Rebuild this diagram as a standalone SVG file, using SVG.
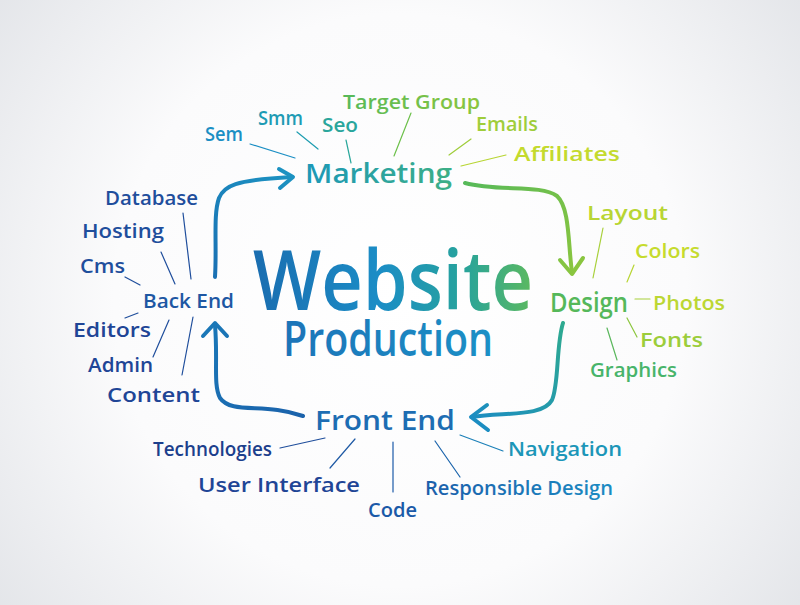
<svg xmlns="http://www.w3.org/2000/svg" width="800" height="605" viewBox="0 0 800 605">
<defs>
<radialGradient id="bg" cx="400" cy="300" r="520" gradientUnits="userSpaceOnUse">
<stop offset="0" stop-color="#ffffff"/>
<stop offset="0.55" stop-color="#fbfbfc"/>
<stop offset="1" stop-color="#e2e4e8"/>
</radialGradient>
<linearGradient id="gWeb" x1="0" y1="0" x2="280" y2="0" gradientUnits="userSpaceOnUse">
<stop offset="0" stop-color="#1a6db0"/>
<stop offset="0.45" stop-color="#1b8dc6"/>
<stop offset="0.75" stop-color="#27a39c"/>
<stop offset="1" stop-color="#5cb95f"/>
</linearGradient>
<linearGradient id="gProd" x1="0" y1="0" x2="210" y2="0" gradientUnits="userSpaceOnUse">
<stop offset="0" stop-color="#1c74b8"/>
<stop offset="1" stop-color="#1b90c6"/>
</linearGradient>
<linearGradient id="gMkt" x1="305" y1="0" x2="452" y2="0" gradientUnits="userSpaceOnUse">
<stop offset="0" stop-color="#1c98b8"/>
<stop offset="1" stop-color="#3daf86"/>
</linearGradient>
<linearGradient id="gTG" x1="343" y1="0" x2="480" y2="0" gradientUnits="userSpaceOnUse">
<stop offset="0" stop-color="#56b95a"/>
<stop offset="1" stop-color="#8cc63e"/>
</linearGradient>
<linearGradient id="gRD" x1="425" y1="0" x2="613" y2="0" gradientUnits="userSpaceOnUse">
<stop offset="0" stop-color="#1b5fab"/>
<stop offset="1" stop-color="#1b8cc3"/>
</linearGradient>
<linearGradient id="gA1" x1="210" y1="280" x2="295" y2="175" gradientUnits="userSpaceOnUse">
<stop offset="0" stop-color="#1a6fb3"/>
<stop offset="1" stop-color="#1c93c2"/>
</linearGradient>
<linearGradient id="gA2" x1="462" y1="185" x2="580" y2="275" gradientUnits="userSpaceOnUse">
<stop offset="0" stop-color="#56b95a"/>
<stop offset="1" stop-color="#8cc63e"/>
</linearGradient>
<linearGradient id="gA3" x1="565" y1="320" x2="470" y2="420" gradientUnits="userSpaceOnUse">
<stop offset="0" stop-color="#2fab8f"/>
<stop offset="1" stop-color="#1b8cc3"/>
</linearGradient>
<linearGradient id="gA4" x1="305" y1="415" x2="210" y2="320" gradientUnits="userSpaceOnUse">
<stop offset="0" stop-color="#1b62ab"/>
<stop offset="1" stop-color="#1a78b8"/>
</linearGradient>
</defs>
<style>
text{font-family:"Open Sans","Noto Sans",sans-serif;font-weight:600;}
.s{font-size:19px;}
.m{font-size:27px;}
.ln{fill:none;stroke-width:1.2;stroke-linecap:round;}
.ar{fill:none;stroke-width:4;stroke-linecap:round;stroke-linejoin:round;}
</style>
<rect width="800" height="605" fill="url(#bg)"/>

<g id="connectors">
<g class="ln">
<line x1="250" y1="144" x2="295" y2="158" stroke="#1c8fc4"/>
<line x1="297" y1="132" x2="318" y2="149" stroke="#1e9db0"/>
<line x1="346" y1="140" x2="351" y2="163" stroke="#2aa79b"/>
<line x1="411" y1="113" x2="394" y2="156" stroke="#6cc04a"/>
<line x1="471" y1="139" x2="449" y2="155" stroke="#9fcd3a"/>
<line x1="506" y1="155" x2="461" y2="166" stroke="#b8d533"/>
<line x1="183" y1="213" x2="191" y2="279" stroke="#1f4e9c"/>
<line x1="161" y1="252" x2="175" y2="284" stroke="#1f4e9c"/>
<line x1="125" y1="277" x2="140" y2="285" stroke="#1f4e9c"/>
<line x1="125" y1="318" x2="138" y2="313" stroke="#1f4e9c"/>
<line x1="153" y1="357" x2="169" y2="320" stroke="#1f4e9c"/>
<line x1="182" y1="375" x2="193" y2="317" stroke="#1f4e9c"/>
<line x1="603" y1="228" x2="593" y2="278" stroke="#a8d03a"/>
<line x1="634" y1="265" x2="627" y2="282" stroke="#b8d533"/>
<line x1="635" y1="299" x2="650" y2="299" stroke="#a8d03a"/>
<line x1="627" y1="318" x2="637" y2="337" stroke="#8cc63e"/>
<line x1="607" y1="328" x2="617" y2="360" stroke="#5ab75c"/>
<line x1="280" y1="448" x2="325" y2="438" stroke="#1f4e9c"/>
<line x1="330" y1="468" x2="355" y2="439" stroke="#1f5aa5"/>
<line x1="393" y1="442" x2="393" y2="492" stroke="#1b5aa8"/>
<line x1="435" y1="441" x2="460" y2="477" stroke="#1b64ac"/>
<line x1="460" y1="435" x2="503" y2="451" stroke="#1c80b8"/>
</g>
<g class="ar">
<path d="M215,277 C217,245 213,215 219,198 C224,186 234,180 292,177" stroke="url(#gA1)"/>
<path d="M279,169 L293,177 L280,188" stroke="url(#gA1)"/>
<path d="M465,183 C500,192 540,184 557,196 C570,208 568,245 572,272" stroke="url(#gA2)"/>
<path d="M560,260 L572,274 L583,258" stroke="url(#gA2)"/>
<path d="M563,323 C556,345 559,385 552,400 C543,417 505,412 472,417" stroke="url(#gA3)"/>
<path d="M487,405 L471,417 L488,430" stroke="url(#gA3)"/>
<path d="M303,416 C265,402 232,415 220,398 C213,385 218,360 215,325" stroke="url(#gA4)"/>
<path d="M203,336 L215,323 L227,336" stroke="url(#gA4)"/>
</g>
</g>

<g id="center">
<text transform="translate(253,310) scale(1,1.18)" x="0" y="0" font-size="71" font-weight="700" fill="url(#gWeb)" textLength="280" lengthAdjust="spacingAndGlyphs">Website</text>
<text transform="translate(283,356) scale(1,1.22)" x="0" y="0" font-size="40" fill="url(#gProd)" textLength="210" lengthAdjust="spacingAndGlyphs">Production</text>
</g>

<g id="marketing"><text class="m" x="305" y="183" fill="url(#gMkt)" textLength="147" lengthAdjust="spacingAndGlyphs">Marketing</text></g>
<g id="sem"><text class="s" x="205" y="141" fill="#1b8fc4" textLength="38" lengthAdjust="spacingAndGlyphs">Sem</text></g>
<g id="smm"><text class="s" x="258" y="125" fill="#1e9bb4" textLength="45" lengthAdjust="spacingAndGlyphs">Smm</text></g>
<g id="seo"><text class="s" x="322" y="132" fill="#2aa69c" textLength="36" lengthAdjust="spacingAndGlyphs">Seo</text></g>
<g id="target-group"><text class="s" x="343" y="109" fill="url(#gTG)" textLength="137" lengthAdjust="spacingAndGlyphs">Target Group</text></g>
<g id="emails"><text class="s" x="476" y="131" fill="#9fcd3a" textLength="62" lengthAdjust="spacingAndGlyphs">Emails</text></g>
<g id="affiliates"><text class="s" x="514" y="161" fill="#c4da2e" textLength="106" lengthAdjust="spacingAndGlyphs">Affiliates</text></g>

<g id="back-end"><text class="s" x="143" y="308" fill="#1e57a3" font-size="21" textLength="91" lengthAdjust="spacingAndGlyphs">Back End</text></g>
<g id="database"><text class="s" x="105" y="205" fill="#1f4e9c" textLength="93" lengthAdjust="spacingAndGlyphs">Database</text></g>
<g id="hosting"><text class="s" x="82" y="238" fill="#1f4e9c" textLength="82" lengthAdjust="spacingAndGlyphs">Hosting</text></g>
<g id="cms"><text class="s" x="80" y="273" fill="#1f4e9c" textLength="45" lengthAdjust="spacingAndGlyphs">Cms</text></g>
<g id="editors"><text class="s" x="73" y="337" fill="#1f4596" textLength="78" lengthAdjust="spacingAndGlyphs">Editors</text></g>
<g id="admin"><text class="s" x="88" y="372" fill="#1f4596" textLength="65" lengthAdjust="spacingAndGlyphs">Admin</text></g>
<g id="content"><text class="s" x="107" y="402" fill="#1f4596" textLength="93" lengthAdjust="spacingAndGlyphs">Content</text></g>

<g id="design"><text class="m" x="550" y="312" fill="#55b85a" font-size="26" textLength="78" lengthAdjust="spacingAndGlyphs">Design</text></g>
<g id="layout"><text class="s" x="587" y="220" fill="#b8d533" textLength="81" lengthAdjust="spacingAndGlyphs">Layout</text></g>
<g id="colors"><text class="s" x="635" y="258" fill="#c6db2e" textLength="65" lengthAdjust="spacingAndGlyphs">Colors</text></g>
<g id="photos"><text class="s" x="653" y="310" fill="#bcd733" textLength="72" lengthAdjust="spacingAndGlyphs">Photos</text></g>
<g id="fonts"><text class="s" x="640" y="347" fill="#9ccd3b" textLength="63" lengthAdjust="spacingAndGlyphs">Fonts</text></g>
<g id="graphics"><text class="s" x="590" y="377" fill="#48b46a" textLength="87" lengthAdjust="spacingAndGlyphs">Graphics</text></g>

<g id="front-end"><text class="m" x="315" y="430" fill="#1d6db3" textLength="140" lengthAdjust="spacingAndGlyphs">Front End</text></g>
<g id="technologies"><text class="s" x="153" y="456" fill="#1c3f8c" textLength="119" lengthAdjust="spacingAndGlyphs">Technologies</text></g>
<g id="user-interface"><text class="s" x="198" y="492" fill="#1f4596" textLength="162" lengthAdjust="spacingAndGlyphs">User Interface</text></g>
<g id="code"><text class="s" x="368" y="517" fill="#1b5aa8" textLength="49" lengthAdjust="spacingAndGlyphs">Code</text></g>
<g id="responsible-design"><text class="s" x="425" y="495" fill="url(#gRD)" textLength="188" lengthAdjust="spacingAndGlyphs">Responsible Design</text></g>
<g id="navigation"><text class="s" x="508" y="456" fill="#1c96b8" textLength="114" lengthAdjust="spacingAndGlyphs">Navigation</text></g>
</svg>
